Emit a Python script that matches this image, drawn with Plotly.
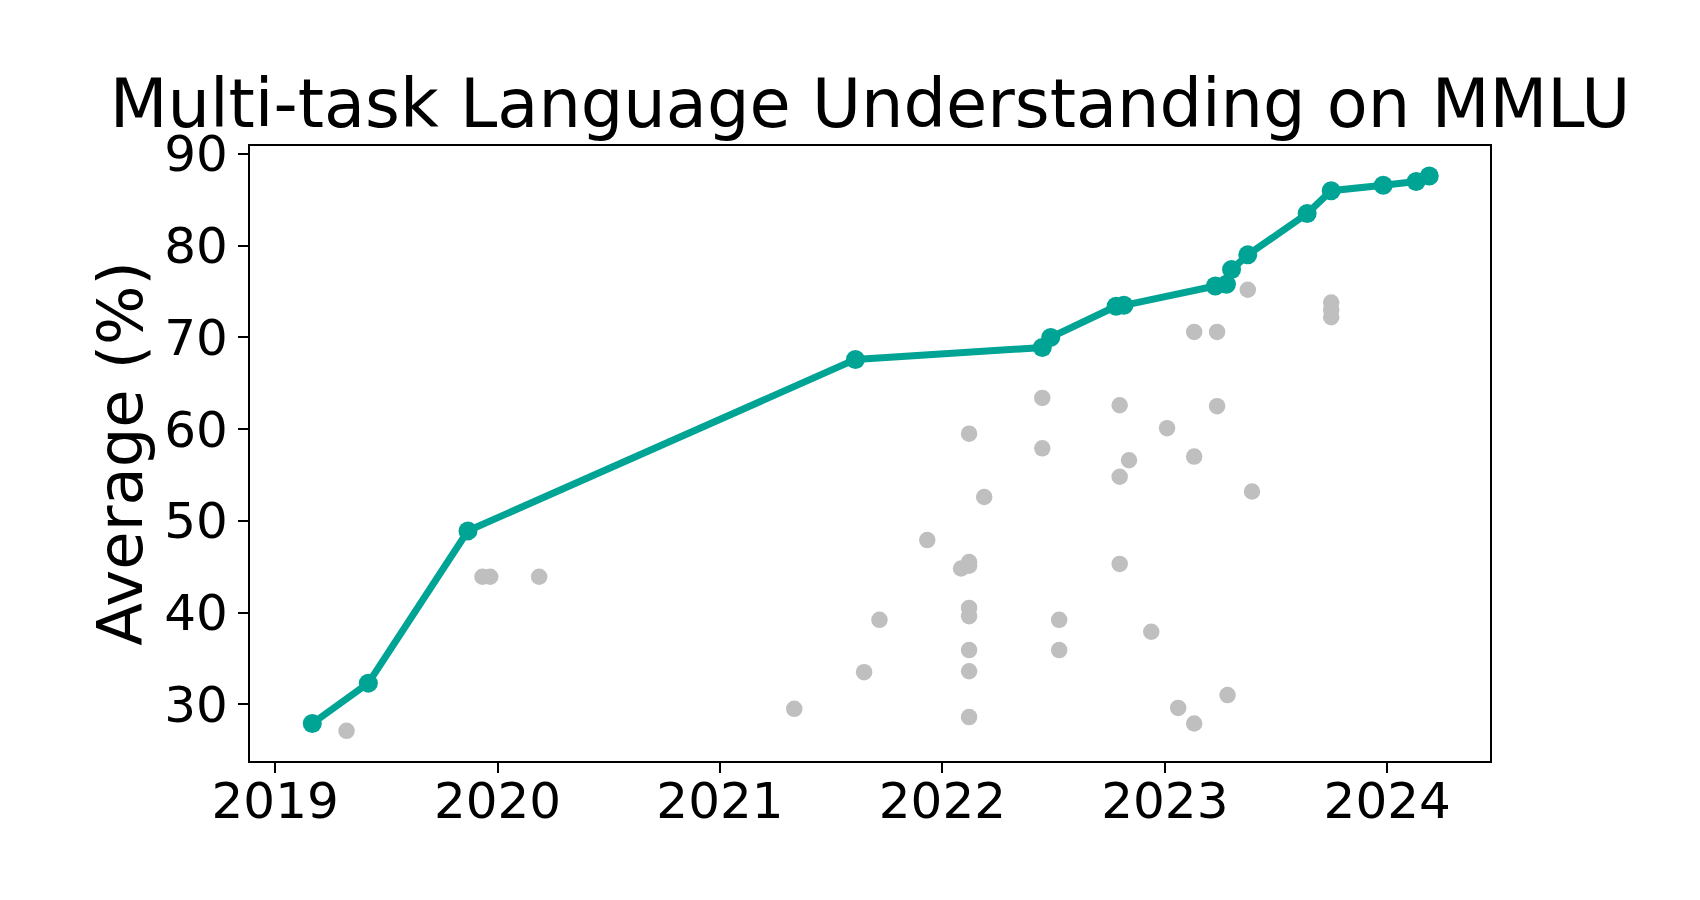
import plotly.graph_objects as go

# best-so-far (SOTA) models, decimal year of release
sota_year = [2019.167, 2019.419, 2019.867, 2021.609, 2022.449, 2022.487, 2022.781, 2022.816,
             2023.227, 2023.277, 2023.300, 2023.373, 2023.640, 2023.748, 2023.982, 2024.130, 2024.189]
sota_score = [27.9, 32.3, 48.9, 67.6, 68.9, 70.0, 73.4, 73.5,
              75.6, 75.8, 77.4, 79.0, 83.5, 86.0, 86.6, 87.0, 87.6]

# every other model
other_year = [2019.321, 2019.932, 2019.967, 2020.187, 2021.334, 2021.648, 2021.717, 2021.932,
              2022.084, 2022.120, 2022.120, 2022.120, 2022.120, 2022.120, 2022.120, 2022.120,
              2022.120, 2022.188, 2022.449, 2022.449, 2022.525, 2022.525, 2022.797, 2022.797,
              2022.797, 2022.839, 2022.939, 2023.010, 2023.060, 2023.132, 2023.132, 2023.132,
              2023.235, 2023.235, 2023.282, 2023.373, 2023.392, 2023.748, 2023.748, 2023.748]
other_score = [27.1, 43.9, 43.9, 43.9, 29.5, 33.5, 39.2, 47.9,
               44.8, 45.5, 45.1, 59.5, 40.5, 39.6, 35.9, 33.6,
               28.6, 52.6, 63.4, 57.9, 39.2, 35.9, 62.6, 54.8,
               45.3, 56.6, 37.9, 60.1, 29.6, 70.6, 57.0, 27.9,
               70.6, 62.5, 31.0, 75.2, 53.2, 73.8, 73.0, 72.2]

year_ticks = [2019, 2020, 2021, 2022, 2023, 2024]
score_ticks = [30, 40, 50, 60, 70, 80, 90]

TEAL = "#00a495"
FONT = "DejaVu Sans"

fig = go.Figure()

fig.add_trace(
    go.Scatter(
        x=other_year,
        y=other_score,
        mode="markers",
        marker=dict(color="#bfbfbf", size=16.5, line=dict(width=0)),
        showlegend=False,
    )
)

fig.add_trace(
    go.Scatter(
        x=sota_year,
        y=sota_score,
        mode="lines+markers",
        line=dict(color=TEAL, width=7),
        marker=dict(color=TEAL, size=19, line=dict(width=0)),
        showlegend=False,
    )
)

axis_style = dict(
    showgrid=False,
    zeroline=False,
    showline=True,
    mirror=True,
    linecolor="black",
    linewidth=2.2,
    ticks="outside",
    ticklen=10,
    tickwidth=2.2,
    tickcolor="black",
    tickfont=dict(family=FONT, size=50, color="black"),
)

fig.update_xaxes(
    range=[2018.887, 2024.462],
    tickvals=year_ticks,
    ticktext=[str(y) for y in year_ticks],
    ticklabelstandoff=-15,
    **axis_style,
)
fig.update_yaxes(
    range=[23.81, 90.87],
    tickvals=score_ticks,
    title=dict(text="Average (%)", font=dict(family=FONT, size=62.5, color="black"), standoff=1),
    **axis_style,
)

# the page body adds 8px at top/left, so margins are shifted by that much
fig.update_layout(
    title=dict(
        text="Multi-task Language Understanding on MMLU",
        font=dict(family=FONT, size=67, color="black"),
        x=0.5,
        xref="paper",
        xanchor="center",
        y=1 - 96 / 900,
        yref="container",
        yanchor="middle",
    ),
    width=1700,
    height=900,
    margin=dict(l=242, r=218, t=138, b=147, autoexpand=False),
    plot_bgcolor="white",
    paper_bgcolor="white",
    font=dict(family=FONT, color="black"),
)

fig.write_html("out.html")
